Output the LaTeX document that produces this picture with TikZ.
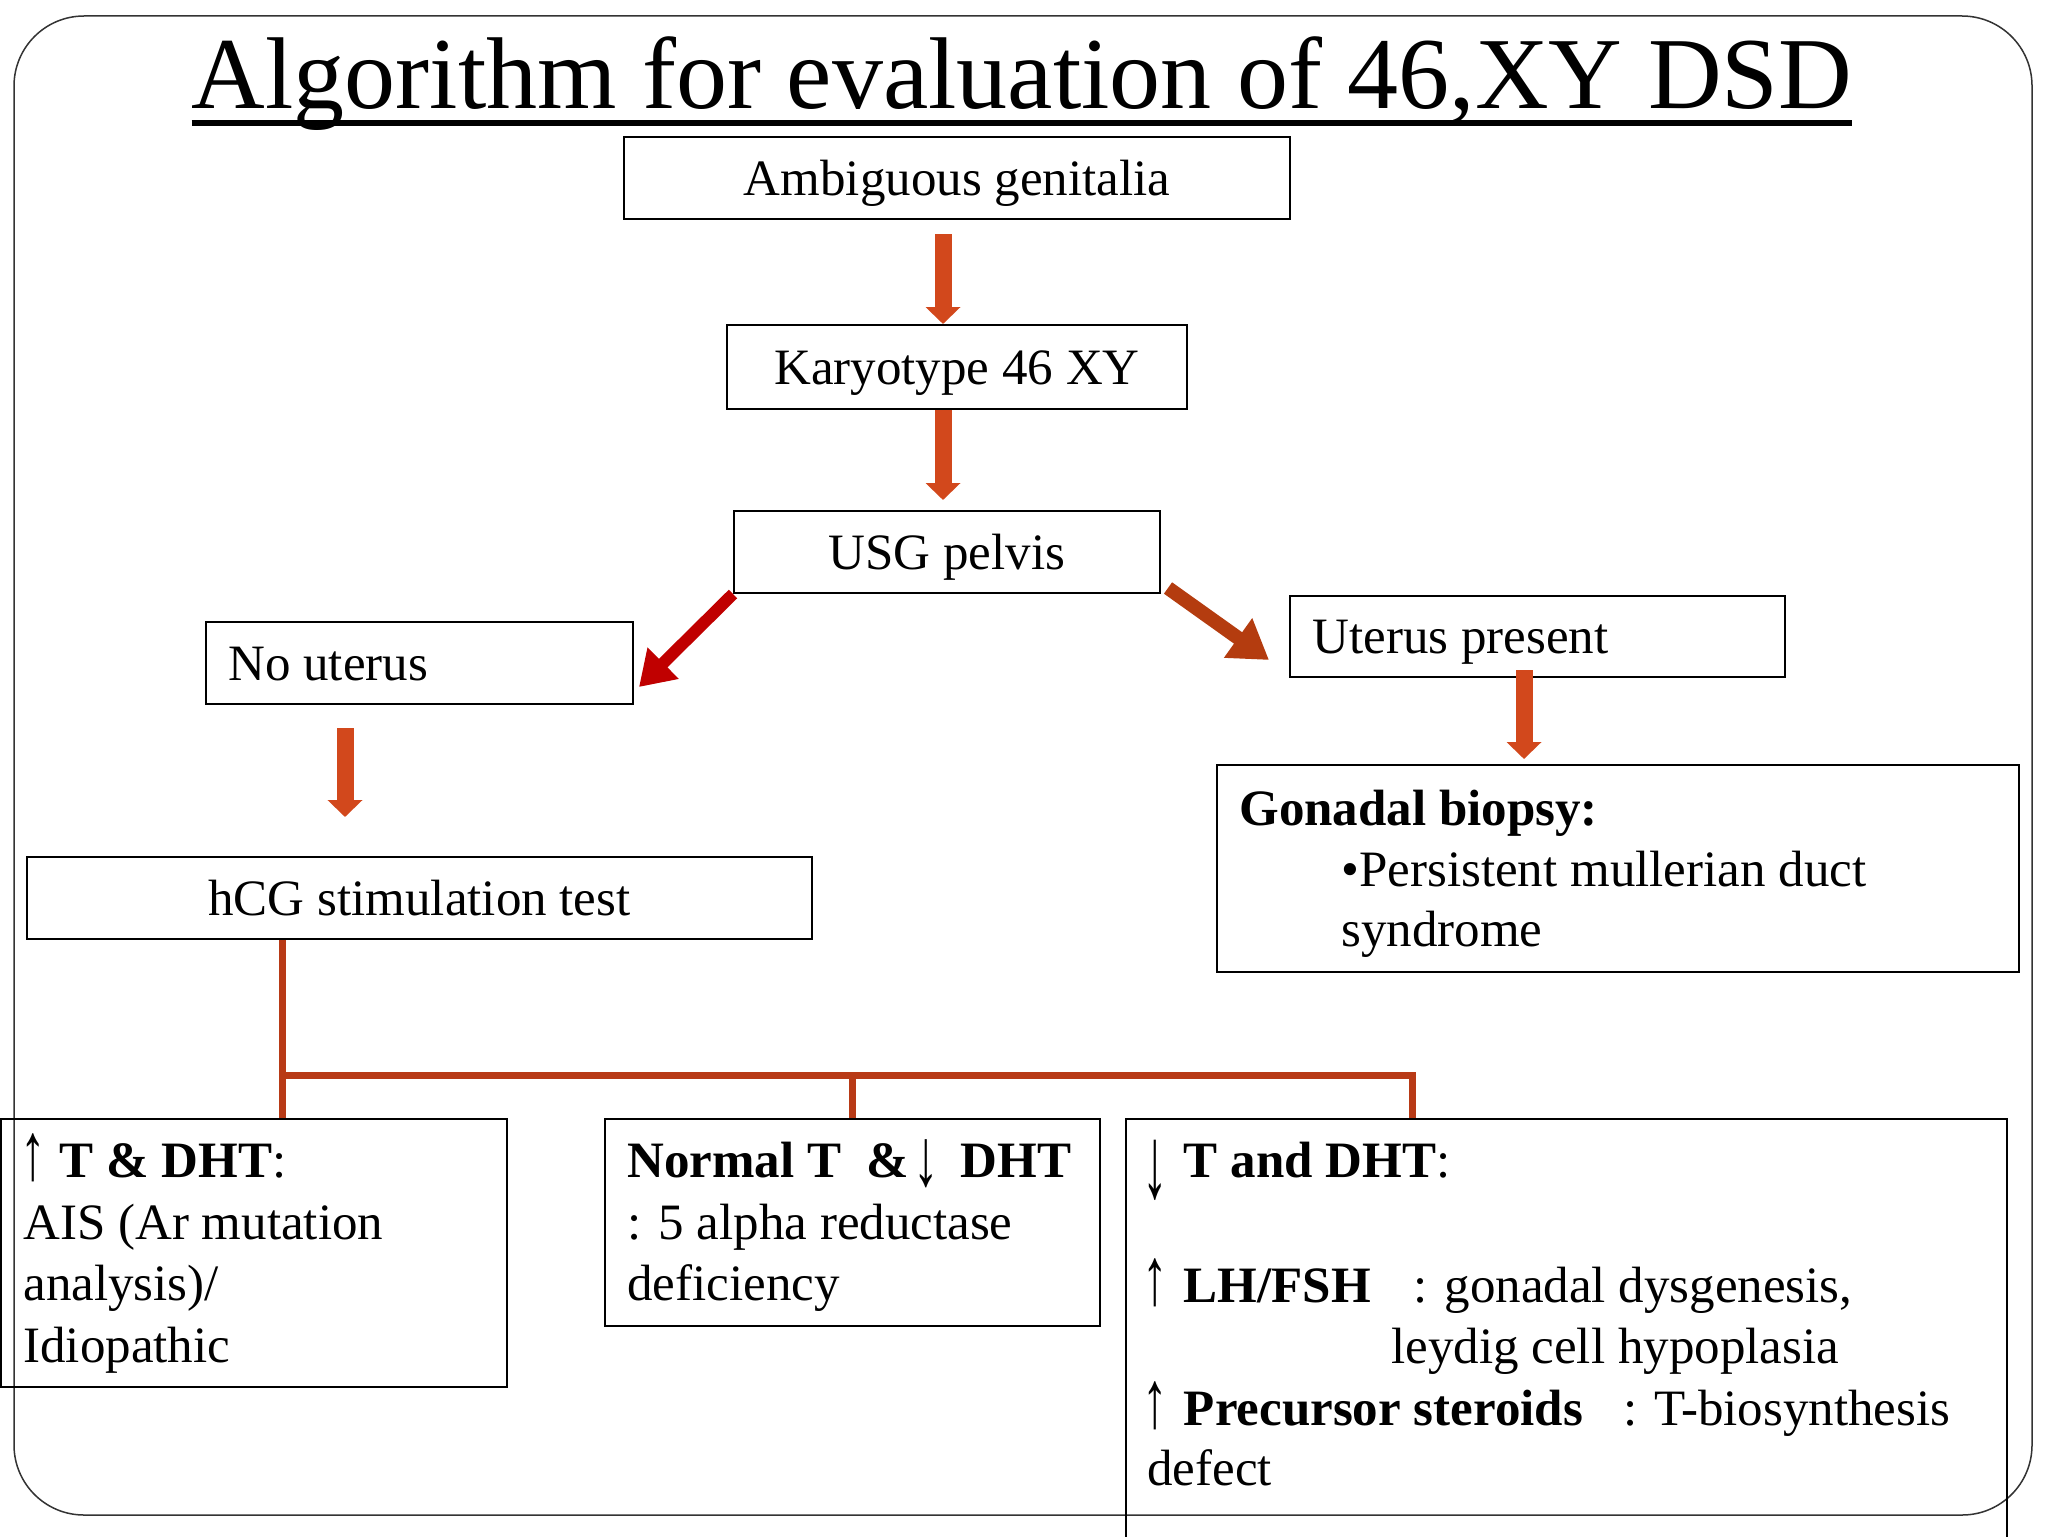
\documentclass[tikz,border=0pt]{standalone}
\usepackage{fontspec}
\setmainfont{Liberation Serif}
\usetikzlibrary{arrows.meta,calc}
\definecolor{arrfill}{RGB}{210,72,28}
\definecolor{arrred}{RGB}{192,0,0}
\definecolor{arrbrown}{RGB}{180,60,15}
\definecolor{connc}{RGB}{184,58,22}
\newcommand{\uparr}{\raisebox{-1pt}{\scalebox{1}[1.6]{↑}}}
\newcommand{\dnarr}{\raisebox{-10pt}{\scalebox{1}[2.0]{↓}}}
\newcommand{\dnarrs}{\raisebox{-4pt}{\scalebox{1}[1.6]{↓}}}
\begin{document}
\begin{tikzpicture}[x=0.5pt,y=-0.5pt,
  box/.style={draw=black,line width=1pt,inner sep=0pt,text height=17pt,text depth=0pt,font=\fontsize{25.5}{30}\selectfont},
  lbl/.style={inner sep=0pt,anchor=base west,font=\fontsize{25.5}{30}\selectfont},
  vdown/.style={color=arrfill,line width=8.5pt,-{Triangle[width=17pt,length=8.5pt]}},
  redarr/.style={color=arrred,line width=6pt,-{Triangle[width=21pt,length=17pt]}},
  brownarr/.style={color=arrbrown,line width=7pt,-{Triangle[width=23pt,length=19pt]}},
  connline/.style={draw=connc,line width=3.5pt},
  framebox/.style={draw=black!80,line width=0.75pt,rounded corners=35pt,inner sep=0pt}
]
\fill[white] (0,0) rectangle (2048,1536);
\useasboundingbox (0,0) rectangle (2048,1536);

% outer frame
\node[framebox,minimum width=1009pt,minimum height=749.5pt] (frame) at (1023,765.5) {};

% title
\node[inner sep=0pt,anchor=base,font=\fontsize{51}{60}\selectfont] (title) at (1022,109) {Algorithm for evaluation of 46,XY DSD};
\draw[line width=2.6pt] ($(title.base west)+(0,14)$) -- ($(title.base east)+(0,14)$);

% boxes
\node[box,minimum width=333pt,minimum height=41pt] (amb) at (957,178) {Ambiguous genitalia};
\node[box,minimum width=230pt,minimum height=42pt] (kar) at (957,367) {Karyotype 46 XY};
\node[box,minimum width=213pt,minimum height=41pt] (usg) at (947,552) {USG pelvis};
\node[box,minimum width=213.5pt,minimum height=41pt] (nou) at (419.5,663) {};
\node[box,minimum width=247.5pt,minimum height=40.5pt] (uter) at (1537.5,636.5) {};
\node[box,minimum width=392.5pt,minimum height=41pt] (hcg) at (419.5,898) {hCG stimulation test};
\node[box,minimum width=401pt,minimum height=103.5pt] (gon) at (1618,868.5) {};
\node[box,minimum width=253pt,minimum height=134pt] (ais) at (254,1253) {};
\node[box,minimum width=247.5pt,minimum height=103.5pt] (nor) at (852.5,1222.5) {};
\node[box,minimum width=440.5pt,minimum height=220.5pt] (tdh) at (1566.5,1339.5) {};

% left-aligned labels
\node[lbl] (noutxt) at ($(nou.west)+(23,17)$) {No uterus};
\node[lbl] (utertxt) at ($(uter.west)+(23,17)$) {Uterus present};

\node[lbl] (gon1) at (1239,825) {\textbf{Gonadal biopsy:}};
\node[lbl] (gon2) at (1341,886) {•Persistent mullerian duct};
\node[lbl] (gon3) at (1341,946) {syndrome};

\node[lbl] (ais1) at (20,1177) {\uparr\hspace{7pt}\textbf{T \& DHT}:};
\node[lbl] (ais2) at (23,1239) {AIS (Ar mutation};
\node[lbl] (ais3) at (23,1300) {analysis)/};
\node[lbl] (ais4) at (23,1362) {Idiopathic};

\node[lbl] (nor1) at (627,1177) {\textbf{Normal T\ \ \&}\hspace{2pt}\dnarrs\hspace{11pt}\textbf{DHT}};
\node[lbl] (nor2) at (627,1239) {: 5 alpha reductase};
\node[lbl] (nor3) at (627,1300) {deficiency};

\node[lbl] (tdh1) at (1142,1177) {\dnarr\hspace{8pt}\textbf{T and DHT}:};
\node[lbl] (tdh2) at (1142,1302) {\uparr\hspace{8pt}\textbf{LH/FSH}};
\node[lbl] (tdh2b) at (1413,1302) {: gonadal dysgenesis,};
\node[lbl] (tdh3) at (1391,1363) {leydig cell hypoplasia};
\node[lbl] (tdh4) at (1142,1425) {\uparr\hspace{8pt}\textbf{Precursor steroids}};
\node[lbl] (tdh4b) at (1623,1425) {: T-biosynthesis};
\node[lbl] (tdh5) at (1147,1485) {defect};

% vertical block arrows
\draw[vdown] ([xshift=-7pt,yshift=-7pt]amb.south) -- ([xshift=-7pt]kar.north);
\draw[vdown] ([xshift=-7pt]kar.south) -- ([xshift=-2pt,yshift=5pt]usg.north);
\draw[vdown] ([xshift=-37.25pt,yshift=-11.5pt]nou.south) -- ([xshift=-37.25pt,yshift=19.5pt]hcg.north);
\draw[vdown] ([xshift=-6.75pt,yshift=4pt]uter.south) -- ([xshift=-47pt,yshift=2.5pt]gon.north);

% diagonal arrows
\draw[redarr] (usg.south west) -- ([xshift=2.5pt,yshift=-12pt]nou.east);
\draw[brownarr] ([xshift=3.5pt,yshift=3pt]usg.south east) -- ([xshift=-10pt,yshift=-11.75pt]uter.west);

% hCG branching connectors
\coordinate (jL) at (282,1075);
\coordinate (jR) at (1412,1075);
\draw[connline] (hcg.south -| jL) -- (jL) -- (jR) -- (tdh.north -| jR);
\draw[connline] (jL) -- (ais.north -| jL);
\draw[connline] (nor.north |- jL) -- (nor.north);
\end{tikzpicture}
\end{document}
